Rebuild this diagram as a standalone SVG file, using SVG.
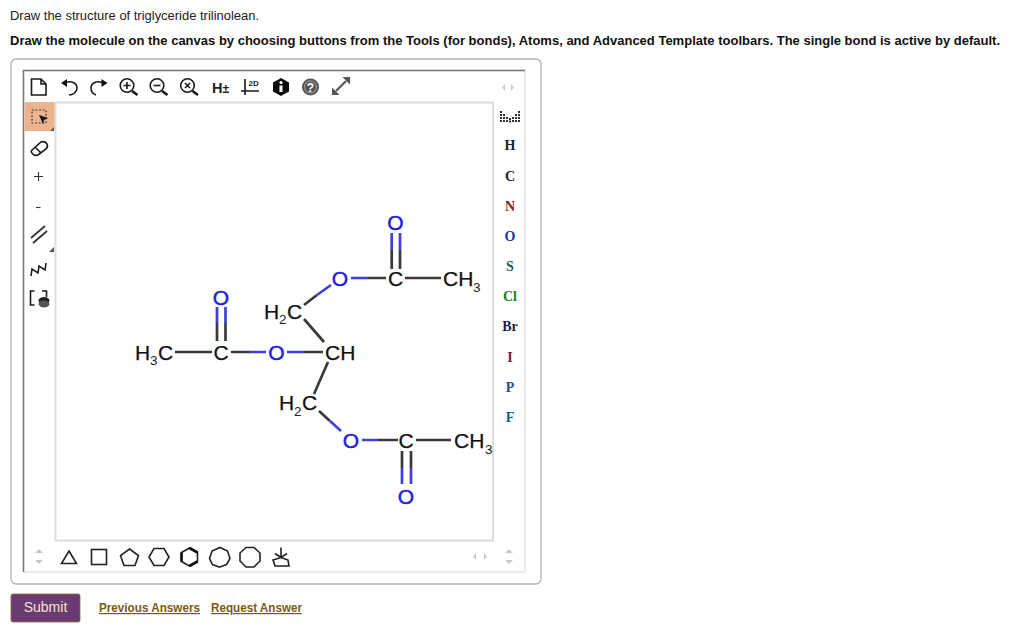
<svg xmlns="http://www.w3.org/2000/svg" width="1024" height="635" viewBox="0 0 1024 635">
<style>
text{font-family:"Liberation Sans",Arial,sans-serif}
.atom{font-size:21px;fill:#111;text-anchor:middle;stroke:#111;stroke-width:.25}
.oxy{font-size:21px;fill:#1c22d8;text-anchor:middle;stroke:#1c22d8;stroke-width:.45}
.sub{font-size:13.500px;fill:#222}
.ch{font-size:21px;fill:#111;stroke:#111;stroke-width:.25}
.b{stroke:#3a3a3a;stroke-width:2.700;fill:none}
.bo{stroke:#3c40e0;stroke-width:2.700;fill:none}
.el{font-family:"Liberation Serif",serif;font-weight:bold;font-size:14px;text-anchor:middle}
.ic{fill:none;stroke:#1a1a1a;stroke-width:1.600}
.ring{fill:none;stroke:#222;stroke-width:1.600}
.arr{fill:#c8c8c8}
.lnk{font-size:12px;font-weight:bold;fill:#7a5a10;text-decoration:underline}
</style>
<rect width="1024" height="635" fill="#fff"/>
<g id="prompt">
<text x="10" y="19.500" font-size="12" fill="#222" textLength="249" lengthAdjust="spacingAndGlyphs">Draw the structure of triglyceride trilinolean.</text>
<text x="10" y="45" font-size="12" font-weight="bold" fill="#111" textLength="990" lengthAdjust="spacingAndGlyphs">Draw the molecule on the canvas by choosing buttons from the Tools (for bonds), Atoms, and Advanced Template toolbars. The single bond is active by default.</text>
</g>
<g id="frame">
<rect x="11" y="59" width="530" height="525" rx="5" fill="#fff" stroke="#b4b4b4" stroke-width="1.300"/>
<path d="M23.500 572V70.500H525V572H23.500" fill="none" stroke="#e4e4e4" stroke-width="1.500"/>
<path d="M23.500 572V70.500H525" fill="none" stroke="#777" stroke-width="1.500"/>
<rect x="55.500" y="102.500" width="437.500" height="438" fill="#fff" stroke="#dcdcdc" stroke-width="2"/>
</g>
<g id="top-toolbar">
<path class="ic" stroke-width="2.200" d="M31.500 79h9.500l5 5v11h-14.500zM41 79v5h5"/>
<path class="ic" stroke-width="2.200" d="M65 83c6-3 12 0 12 5c0 4-4 7-8 7"/><path d="M61 83l6-4v8z" fill="#111"/>
<path class="ic" stroke-width="2.200" d="M103 83c-6-3-12 0-12 5c0 3 2 6 5 7"/><path d="M107.500 83l-6-4v8z" fill="#111"/>
<g class="ic"><circle cx="127" cy="85.500" r="6.800"/><path d="M123.500 85.500h7M127 82v7"/></g><path d="M132 91l5.500 4" stroke="#111" stroke-width="2.400"/>
<g class="ic" stroke="#444"><circle cx="157" cy="85.500" r="6.800"/><path d="M153.500 85.500h7"/></g><path d="M162 91l5.500 4" stroke="#111" stroke-width="2.400"/>
<g class="ic" stroke="#444"><circle cx="187.500" cy="85.500" r="6.800"/><path d="M185 83l5 5M190 83l-5 5"/></g><path d="M192.500 91l5.500 4" stroke="#111" stroke-width="2.400"/>
<text x="212" y="92.500" font-size="14.500" font-weight="bold" fill="#222">H<tspan font-size="12">±</tspan></text>
<path class="ic" stroke-width="1" d="M245 79v16M241 91h18"/>
<text x="248.500" y="85.500" font-size="8" font-weight="bold" fill="#222">2D</text>
<path d="M281 78l8 4.500v9l-8 4.500l-8-4.500v-9z" fill="#0c0c0c"/><rect x="279.500" y="85.500" width="3" height="6.500" fill="#fff"/><circle cx="281" cy="82.500" r="1.600" fill="#fff"/>
<circle cx="310.500" cy="87" r="8.500" fill="#555"/><circle cx="310.500" cy="87" r="6" fill="none" stroke="#ddd" stroke-width=".6"/><text x="310.500" y="91.500" font-size="12" font-weight="bold" fill="#fff" text-anchor="middle">?</text>
<path d="M336 91l10-10" stroke="#555" stroke-width="2.200"/><path d="M332 95v-7.500l7.500 7.500zM350 77v7.500l-7.500-7.500z" fill="#555"/>
<path class="arr" d="M505 84l-3 3.500l3 3.500zM511 84l3 3.500l-3 3.500z"/>
</g>
<g id="left-toolbar">
<rect x="24.500" y="102" width="30" height="29" fill="#ebb48f"/>
<rect x="32" y="110" width="14" height="13" fill="none" stroke="#333" stroke-width="1.200" stroke-dasharray="1.800 1.800"/>
<path d="M39 115l9 3l-4 2l-1 4z" fill="#111"/>
<path d="M54 127v4h-4z" fill="#555"/>
<path class="ic" stroke-width="2" d="M32 150l9-8c2-1 5 0 6 2c1 2 0 4-1 5l-8 6c-2 1-5 0-6-2c-1-1-1-2 0-3zM35 147l6 6"/>
<path d="M34 176.500h9M38.500 172v9" stroke="#333" stroke-width="1.100"/>
<path d="M36 207.500h4.500" stroke="#333" stroke-width="1.100"/>
<path d="M31 238l14-12M33 243l14-12" stroke="#333" stroke-width="1.800"/>
<path d="M54 247v5h-5z" fill="#555"/>
<path class="ic" stroke="#333" stroke-width="1.100" d="M31 276l1-7l6 4l1-7l6 4l1-7"/>
<path class="ic" stroke-width="1.800" d="M34.500 291h-4v14h4M42 291h4.500v6"/>
<ellipse cx="44" cy="300.500" rx="5.500" ry="3.500" fill="#222"/><ellipse cx="44" cy="304" rx="5.500" ry="3.500" fill="#555"/>
</g>
<g id="right-toolbar">
<path d="M500 111h2v2h-2zM500 114h2v2h-2zM500 117h2v2h-2zM500 120h2v2h-2zM503 114h2v2h-2zM503 117h2v2h-2zM503 120h2v2h-2zM506 117h2v2h-2zM506 120h2v2h-2zM509 118h2v2h-2zM509 120.500h2v2h-2zM512 117h2v2h-2zM512 120h2v2h-2zM515 114h2v2h-2zM515 117h2v2h-2zM515 120h2v2h-2zM518 111h2v2h-2zM518 114h2v2h-2zM518 117h2v2h-2zM518 120h2v2h-2z" fill="#333"/>
<text class="el" x="510" y="149.500" fill="#222">H</text>
<text class="el" x="510" y="180.500" fill="#222">C</text>
<text class="el" x="510" y="210.500" fill="#8a1a1a">N</text>
<text class="el" x="510" y="240.500" fill="#1c3c9c">O</text>
<text class="el" x="510" y="270.500" fill="#1c5a5a">S</text>
<text class="el" x="510" y="300.500" fill="#1f7a1f">Cl</text>
<text class="el" x="510" y="331" fill="#1c1c4c">Br</text>
<text class="el" x="510" y="361.500" fill="#7a2040">I</text>
<text class="el" x="510" y="391.500" fill="#2a4a8a">P</text>
<text class="el" x="510" y="421.500" fill="#1c5a7a">F</text>
</g>
<g id="bottom-toolbar">
<path class="arr" d="M35 553l4-4l4 4zM35 560l4 4l4-4z"/>
<path class="ring" d="M69 551l7.500 12.500h-15z"/>
<rect class="ring" x="91.500" y="549.500" width="15" height="15"/>
<path class="ring" d="M129.500 549l9 6.500l-3.500 10h-11l-3.500-10z"/>
<path class="ring" d="M154 548.500h10l5 8.500l-5 8.500h-10l-5-8.500z"/>
<path class="ring" d="M189.500 548l8 4.500v9l-8 4.500l-8-4.500v-9z"/><path d="M189.500 548l8 4.500M197.500 561.500l-8 4.500M181.500 561.500v-9" stroke="#111" stroke-width="2.600" fill="none"/>
<path class="ring" d="M220 547.500l7.500 3.500l2.500 7.500l-3.500 6l-6.500 2.500h-1l-6.500-2.500l-3-6l2.500-7.500z"/>
<path class="ring" d="M246 547.500h8l6 5.500v8l-6 6h-8l-6-6v-8z"/>
<path class="ring" d="M281 547.500v10l-8 2.500l2 6h7M281 557.500l7 2.500l1 6h-7.500M281 557.500l-6-4M281 557.500l6-4"/>
<path class="arr" d="M476 553l-3 3.500l3 3.500zM484 553l3 3.500l-3 3.500zM505 553l4-4l4 4zM505 560l4 4l4-4z"/>
</g>
<g id="connectors">
<path class="b" d="M175 352H212M231 352H250M304 352H323M217 323V341M225.500 323V341M304 319L324 342M328 362L314 394M304 305L317 295M368 278H386M405 278H441M391.700 250V269M400 250V269M319 411L330 421M378 440H398M416 440H451M402 451V468M411 451V468"/>
<path class="bo" d="M250 352H266M287 352H304M217 307V323M225.500 307V323M317 295L331 285M351 278H368M391.700 233V250M400 233V250M330 421L341 431M362 440H378M402 468V484M411 468V484"/>
</g>
<g id="CH3-left"><text class="ch" x="135" y="359.500">H</text><text class="sub" x="150" y="365">3</text><text class="ch" x="158" y="359.500">C</text></g>
<g id="C-left"><text class="atom" x="221" y="359.500">C</text></g>
<g id="O-left-top"><text class="oxy" x="221" y="304.500">O</text></g>
<g id="O-left"><text class="oxy" x="276.500" y="359.500">O</text></g>
<g id="CH-center"><text class="ch" x="325" y="359.500">CH</text></g>
<g id="CH2-upper"><text class="ch" x="264" y="318.500">H</text><text class="sub" x="279" y="324">2</text><text class="ch" x="287" y="318.500">C</text></g>
<g id="O-upper"><text class="oxy" x="340" y="285.500">O</text></g>
<g id="C-upper"><text class="atom" x="395.500" y="285.500">C</text></g>
<g id="O-upper-top"><text class="oxy" x="395.500" y="230">O</text></g>
<g id="CH3-upper"><text class="ch" x="443" y="285.500">CH</text><text class="sub" x="473" y="292">3</text></g>
<g id="CH2-lower"><text class="ch" x="279" y="410">H</text><text class="sub" x="294" y="415.500">2</text><text class="ch" x="302" y="410">C</text></g>
<g id="O-lower"><text class="oxy" x="351" y="447.500">O</text></g>
<g id="C-lower"><text class="atom" x="406" y="447.500">C</text></g>
<g id="CH3-lower"><text class="ch" x="454" y="447.500">CH</text><text class="sub" x="485" y="454">3</text></g>
<g id="O-lower-bottom"><text class="oxy" x="406" y="503.500">O</text></g>
<g id="actions">
<rect x="11" y="594" width="69" height="28" rx="2" fill="#6b3a70" stroke="#8a6a30" stroke-width="0.800"/>
<text x="45.500" y="612" font-size="14" fill="#f3e6c8" text-anchor="middle">Submit</text>
<text class="lnk" x="99" y="612" textLength="101" lengthAdjust="spacingAndGlyphs">Previous Answers</text>
<text class="lnk" x="211" y="612" textLength="91" lengthAdjust="spacingAndGlyphs">Request Answer</text>
</g>
</svg>
